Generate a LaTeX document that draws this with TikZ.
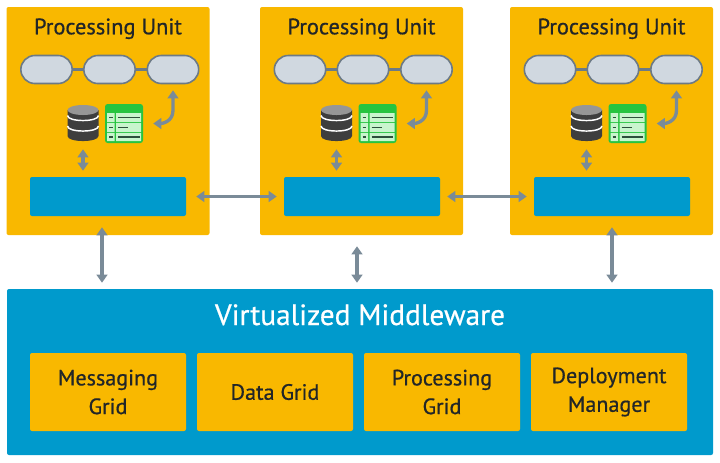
\documentclass[tikz,border=0pt]{standalone}
\usepackage{fontspec}
\setmainfont{PT Sans}[FakeBold=0.6]
\usetikzlibrary{arrows.meta,calc}

\definecolor{unitorange}{RGB}{249,184,0}
\definecolor{midblue}{RGB}{0,154,204}
\definecolor{arrowgrey}{RGB}{122,139,152}
\definecolor{pillfill}{RGB}{208,216,224}
\definecolor{pillline}{RGB}{108,122,134}
\definecolor{dbdark}{RGB}{62,62,62}
\definecolor{dbtop}{RGB}{150,150,150}
\definecolor{tabgreen}{RGB}{38,196,64}
\definecolor{tablight}{RGB}{200,245,205}
\definecolor{tabline}{RGB}{45,80,60}
\definecolor{textdark}{RGB}{34,38,40}

\tikzset{
  unitbox/.style={fill=unitorange, rounded corners=1.5pt, minimum width=152.25pt, minimum height=171pt, inner sep=0pt},
  busbox/.style={fill=midblue, rounded corners=1.5pt, minimum width=117pt, minimum height=29.25pt, inner sep=0pt},
  midbox/.style={fill=midblue, rounded corners=1.5pt, minimum width=529.5pt, minimum height=124.5pt, inner sep=0pt},
  gridbox/.style={fill=unitorange, rounded corners=1.5pt, minimum width=117pt, minimum height=58.5pt, inner sep=0pt, align=center, text=textdark, font=\fontsize{16.6}{21.5}\selectfont},
  pill/.style={draw=pillline, fill=pillfill, line width=1.2pt, rounded corners=10.5pt, minimum width=38.5pt, minimum height=21pt, inner sep=0pt},
  pilllink/.style={draw=pillline, line width=1.6pt},
  dbnode/.style={minimum width=23.25pt, minimum height=27.75pt, inner sep=0pt},
  tabnode/.style={minimum width=28.5pt, minimum height=29.25pt, inner sep=0pt},
  unittitle/.style={font=\fontsize{16.8}{19}\selectfont, text=textdark, inner sep=0pt, anchor=base},
  midtitle/.style={font=\fontsize{22}{25}\selectfont, text=white, inner sep=0pt, anchor=base},
  biarrow/.style={draw=arrowgrey, line width=2.5pt, {Triangle[width=8pt,length=6pt]}-{Triangle[width=8pt,length=6pt]}},
  % pics run with y pointing up
  dbicon/.pic={
    \fill [dbdark] (-15.5,13.5) -- (-15.5,-12.5) .. controls (-15.5,-19.2) and (15.5,-19.2) .. (15.5,-12.5) -- (15.5,13.5) -- cycle;
    \fill [dbtop] (0,13.5) ellipse [x radius=15.5, y radius=5];
    \draw [white, line width=1.1pt] (-15.5,8) .. controls (-15.5,1.3) and (15.5,1.3) .. (15.5,8);
    \draw [white, line width=1.1pt] (-15.5,-2.5) .. controls (-15.5,-9.2) and (15.5,-9.2) .. (15.5,-2.5);
  },
  tableicon/.pic={
    \fill [tabgreen, rounded corners=2pt] (-19,-19.5) rectangle (19,19.5);
    \fill [tablight] (-17,10.5) rectangle (-9.5,1.5) (-8,10.5) rectangle (17,1.5);
    \fill [tablight] (-17,0.5) rectangle (-9.5,-8.5) (-8,0.5) rectangle (17,-8.5);
    \fill [tablight] (-17,-9.5) rectangle (-9.5,-17.5) (-8,-9.5) rectangle (17,-17.5);
    \draw [tabline, line width=1.3pt] (-15,6) -- (-11.5,6) (-15,-4) -- (-11.5,-4) (-15,-13.5) -- (-11.5,-13.5);
    \draw [tabline, line width=1.3pt] (-6,6) -- (15.5,6) (-6,-4) -- (4,-4) (-6,-13.5) -- (15.5,-13.5);
  }
}

\begin{document}
\begin{tikzpicture}[x=0.75pt,y=0.75pt,yscale=-1,xscale=1]
\useasboundingbox (0,0) rectangle (720,462);

%Shape: Rectangle [Processing Units]
\node [unitbox] (u1) at (108,121) {};
\node [unitbox] (u2) at (361.5,121) {};
\node [unitbox] (u3) at (611.5,121) {};

% Text Node
\node [unittitle] (t1) at (108,34.3) {Processing Unit};
% Text Node
\node [unittitle] (t2) at (361.5,34.3) {Processing Unit};
% Text Node
\node [unittitle] (t3) at (611.5,34.3) {Processing Unit};

%Shape: Rounded Rectangle [unit 1]
\node [pill] (p11) at (46.5,69.5) {};
\node [pill] (p12) at (109.5,69.5) {};
\node [pill] (p13) at (173,69.5) {};
\draw [pilllink] (p11) -- (p12);
\draw [pilllink] (p12) -- (p13);
%Shape: Rounded Rectangle [unit 2]
\node [pill] (p21) at (300,69.5) {};
\node [pill] (p22) at (363,69.5) {};
\node [pill] (p23) at (426.5,69.5) {};
\draw [pilllink] (p21) -- (p22);
\draw [pilllink] (p22) -- (p23);
%Shape: Rounded Rectangle [unit 3]
\node [pill] (p31) at (550,69.5) {};
\node [pill] (p32) at (613,69.5) {};
\node [pill] (p33) at (676.5,69.5) {};
\draw [pilllink] (p31) -- (p32);
\draw [pilllink] (p32) -- (p33);

%Shape: Database
\node [dbnode] (db1) at (83,123.5) {};
\pic at (db1) {dbicon};
\node [dbnode] (db2) at (336.5,123.5) {};
\pic at (db2) {dbicon};
\node [dbnode] (db3) at (586.5,123.5) {};
\pic at (db3) {dbicon};

%Shape: Table
\node [tabnode] (tb1) at (124,123.5) {};
\pic at (tb1) {tableicon};
\node [tabnode] (tb2) at (377.5,123.5) {};
\pic at (tb2) {tableicon};
\node [tabnode] (tb3) at (627.5,123.5) {};
\pic at (tb3) {tableicon};

%Shape: Rectangle [bus]
\node [busbox] (bus1) at (108,196.5) {};
\node [busbox] (bus2) at (362,196.5) {};
\node [busbox] (bus3) at (612,196.5) {};

%Curve Lines
\draw [biarrow, shorten <=4.5pt] (p13.south) -- ($(p13.south)+(0,26)$) .. controls +(0,12) and +(8,0) .. ($(tb1.east)+(10,0)$);
\draw [biarrow, shorten <=4.5pt] (p23.south) -- ($(p23.south)+(0,26)$) .. controls +(0,12) and +(8,0) .. ($(tb2.east)+(10,0)$);
\draw [biarrow, shorten <=4.5pt] (p33.south) -- ($(p33.south)+(0,26)$) .. controls +(0,12) and +(8,0) .. ($(tb3.east)+(10,0)$);

%Straight Lines
\draw [biarrow, shorten <=5.25pt, shorten >=4.5pt] (db1.south) -- (bus1.north -| db1);
\draw [biarrow, shorten <=5.25pt, shorten >=4.5pt] (db2.south) -- (bus2.north -| db2);
\draw [biarrow, shorten <=5.25pt, shorten >=4.5pt] (db3.south) -- (bus3.north -| db3);

%Straight Lines
\draw [biarrow, shorten <=7.5pt, shorten >=5.25pt] (bus1.east) -- (bus2.west);
\draw [biarrow, shorten <=5.25pt, shorten >=5.25pt] (bus2.east) -- (bus3.west);

%Shape: Rectangle [middleware]
\node [midbox] (mw) at (360,372) {};
% Text Node
\node [midtitle] (mwt) at (360,325) {Virtualized Middleware};

%Shape: Rectangle [grids]
\node [gridbox] (g1) at (108,392) {Messaging\\Grid};
\node [gridbox] (g2) at (275,392) {Data Grid};
\node [gridbox] (g3) at (442,392) {Processing\\Grid};
\node [gridbox] (g4) at (609,392) {Deployment\\Manager};

%Straight Lines
\coordinate (a1) at (102,0);
\coordinate (a2) at (357,0);
\coordinate (a3) at (612,0);
\draw [biarrow, shorten <=8.25pt, shorten >=4.5pt] (bus1.south -| a1) -- (mw.north -| a1);
\draw [biarrow, shorten <=8.25pt, shorten >=4.5pt] (u2.south -| a2) -- (mw.north -| a2);
\draw [biarrow, shorten <=8.25pt, shorten >=4.5pt] (bus3.south -| a3) -- (mw.north -| a3);

\end{tikzpicture}
\end{document}
